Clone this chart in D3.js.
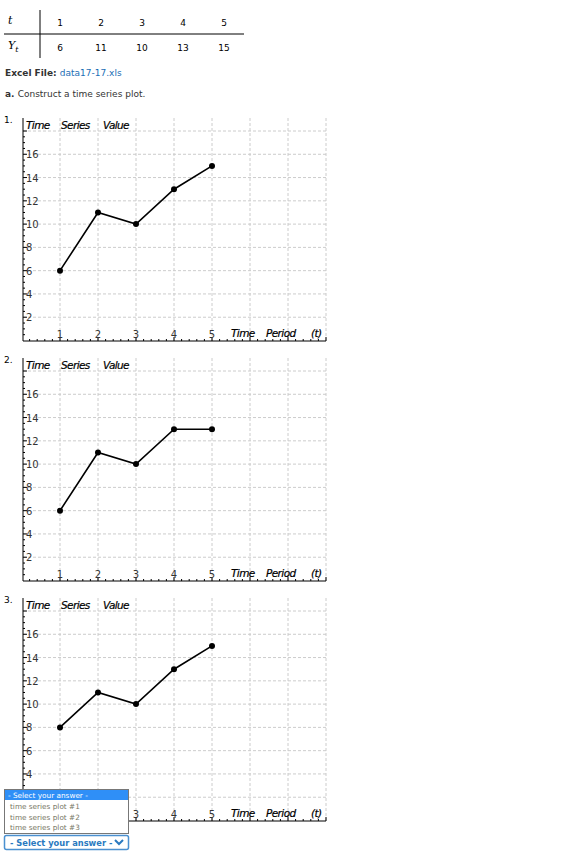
<!DOCTYPE html>
<html><head><meta charset="utf-8">
<script src="https://cdn.jsdelivr.net/npm/d3@7"></script>
<style>body{margin:0;background:#fff;font-family:Verdana,"DejaVu Sans",sans-serif;}</style>
</head><body>
<svg id="c" width="585" height="857"></svg>
<script>
const periods=[1,2,3,4,5];
const tableY=[6,11,10,13,15];
const plot1=[6,11,10,13,15];
const plot2=[6,11,10,13,13];
const plot3=[8,11,10,13,15];
const yTicks=[2,4,6,8,10,12,14,16];
const options=["- Select your answer -","time series plot #1","time series plot #2","time series plot #3"];

const svg=d3.select("#c");
const tx=d3.scaleLinear().domain([1,5]).range([60,224]);
svg.append("text").attr("x",8).attr("y",24).attr("font-family","DejaVu Serif").attr("font-style","italic").attr("font-size",11).text("t");
svg.append("text").attr("x",8).attr("y",49).attr("font-family","DejaVu Serif").attr("font-style","italic").attr("font-size",11).text("Y").append("tspan").attr("font-size",8).attr("dy",3).text("t");
svg.append("line").attr("x1",40).attr("x2",40).attr("y1",10).attr("y2",58).attr("stroke","#000");
svg.append("line").attr("x1",4).attr("x2",244).attr("y1",34).attr("y2",34).attr("stroke","#000");
periods.forEach((p,i)=>{
  svg.append("text").attr("x",tx(p)).attr("y",26).attr("text-anchor","middle").attr("font-size",9).text(p);
  svg.append("text").attr("x",tx(p)).attr("y",51).attr("text-anchor","middle").attr("font-size",9).text(tableY[i]);
});
const t1=svg.append("text").attr("x",5).attr("y",76).attr("font-size",9);
t1.append("tspan").attr("font-weight","bold").attr("fill","#333").text("Excel File: ");
t1.append("tspan").attr("fill","#1a6eb5").text("data17-17.xls");
const t2=svg.append("text").attr("x",5).attr("y",97).attr("font-size",9).attr("fill","#333");
t2.append("tspan").attr("font-weight","bold").text("a. ");
t2.append("tspan").text("Construct a time series plot.");

function chart(data,off,num){
  const g=svg.append("g").attr("transform",`translate(0,${off})`);
  const x=d3.scaleLinear().domain([0,8]).range([22,326]);
  const y=d3.scaleLinear().domain([0,18]).range([340.5,131]);
  g.append("text").attr("x",4).attr("y",123).attr("font-size",9).text(num+".");
  d3.range(1,9).forEach(v=>g.append("line").attr("x1",x(v)).attr("x2",x(v)).attr("y1",118).attr("y2",341).attr("stroke","#ccc").attr("stroke-dasharray","3,2"));
  d3.range(2,20,2).forEach(v=>g.append("line").attr("x1",23).attr("x2",326).attr("y1",y(v)).attr("y2",y(v)).attr("stroke","#ccc").attr("stroke-dasharray","3,2"));
  g.append("line").attr("x1",23).attr("x2",23).attr("y1",118).attr("y2",341).attr("stroke","#000");
  g.append("line").attr("x1",23).attr("x2",326).attr("y1",341).attr("y2",341).attr("stroke","#000");
  d3.range(0.5,18.5,0.5).forEach(v=>g.append("line").attr("x1",23).attr("x2",v%2===0?27:25).attr("y1",y(v)).attr("y2",y(v)).attr("stroke","#000"));
  d3.range(0.2,8.01,0.2).forEach(v=>g.append("line").attr("x1",x(v)).attr("x2",x(v)).attr("y1",341).attr("y2",Math.abs(v-Math.round(v))<0.01?337:339).attr("stroke","#000"));
  yTicks.forEach(v=>g.append("text").attr("x",26).attr("y",y(v)+4).attr("font-size",10).attr("fill","#333").attr("font-family","DejaVu Sans").text(v));
  periods.forEach(v=>g.append("text").attr("x",x(v)).attr("y",338).attr("text-anchor","middle").attr("font-size",10).attr("fill","#333").attr("font-family","DejaVu Sans").text(v));
  const lab=(s,xx,yy)=>g.append("text").attr("x",xx).attr("y",yy).attr("font-size",10.5).attr("font-style","italic").attr("font-family","DejaVu Sans").attr("letter-spacing","-0.6").attr("stroke","#000").attr("stroke-width",0.2).text(s);
  lab("Time",26,129);lab("Series",61,129);lab("Value",103,129);
  lab("Time",231,337);lab("Period",266,337);lab("(t)",311,337);
  g.append("path").datum(data).attr("fill","none").attr("stroke","#000").attr("stroke-width",1.6)
   .attr("d",d3.line().x((d,i)=>x(periods[i])).y(d=>y(d)));
  g.selectAll("circle.p").data(data).join("circle").attr("cx",(d,i)=>x(periods[i])).attr("cy",d=>y(d)).attr("r",3).attr("fill","#000");
}
chart(plot1,0,1);chart(plot2,240,2);chart(plot3,480,3);

const dd=svg.append("g");
dd.append("rect").attr("x",4.5).attr("y",789.5).attr("width",124).attr("height",44).attr("fill","#fff").attr("stroke","#777");
dd.append("rect").attr("x",5).attr("y",790).attr("width",123).attr("height",10).attr("fill","#2f8ff7");
options.forEach((o,i)=>dd.append("text").attr("x",i?10:8).attr("y",798+i*10.8).attr("font-size",7.3).attr("fill",i?"#776":"#fff").text(o));
dd.append("rect").attr("x",4.5).attr("y",835.5).attr("width",124).attr("height",14).attr("rx",2).attr("fill","#fff").attr("stroke","#4a90d0").attr("stroke-width",1.5);
dd.append("text").attr("x",10).attr("y",846).attr("font-size",8.3).attr("font-weight","bold").attr("fill","#2a7ac0").text("- Select your answer -");
dd.append("path").attr("d","M115,840 l4,4 l4,-4").attr("fill","none").attr("stroke","#2a7ac0").attr("stroke-width",2);
</script>
</body></html>
